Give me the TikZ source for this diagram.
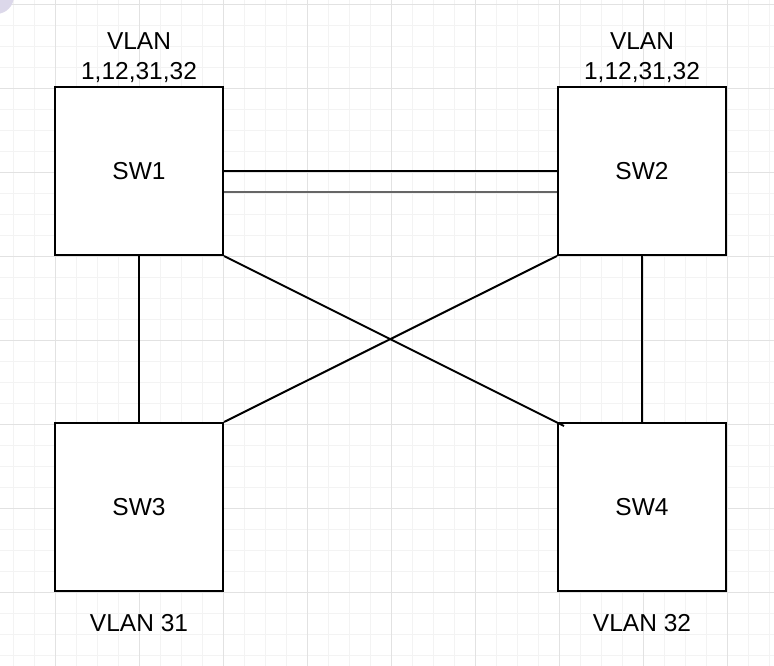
\documentclass[tikz,border=0pt]{standalone}
\usepackage{fontspec}
\setmainfont{Liberation Sans}
\usepackage{tikz}
\usetikzlibrary{matrix,positioning}
\definecolor{gridmajor}{HTML}{E2E2E2}
\definecolor{gridminor}{HTML}{F3F3F3}
\definecolor{blob}{HTML}{DCD8EA}

\begin{document}
\begin{tikzpicture}[x=1pt,y=-1pt,
    link/.style={line width=2pt},
    vlan/.style={font=\fontsize{24.5}{30}\selectfont, align=center, inner sep=0pt}]
  \useasboundingbox (0,0) rectangle (774,666);
  \fill[white] (0,0) rectangle (774,666);
  \foreach \x in {13,34,...,774} \draw[gridminor] (\x,0) -- (\x,666);
  \foreach \y in {4,25,...,666} \draw[gridminor] (0,\y) -- (774,\y);
  \foreach \x in {55,139,...,774} \draw[gridmajor] (\x,0) -- (\x,666);
  \foreach \y in {4,88,...,666} \draw[gridmajor] (0,\y) -- (774,\y);
  \fill[blob] (-4,-4) circle (18);
  \matrix (m) [matrix of nodes, at={(390.5,339)}, column sep=333pt, row sep=166pt,
    nodes={draw, line width=2pt, minimum size=168pt, fill=white, font=\fontsize{24.5}{28}\selectfont}]
  {
    SW1 & SW2 \\
    SW3 & SW4 \\ };
  \path[link]
    (m-1-1.east) edge (m-1-2.west)
    ([yshift=-20.5pt]m-1-1.east) edge[draw=black!60] ([yshift=-20.5pt]m-1-2.west)
    (m-1-1.south) edge (m-2-1.north)
    (m-1-2.south) edge (m-2-2.north)
    (m-1-1.south east) edge ([shift={(7pt,-4pt)}]m-2-2.north west)
    (m-1-2.south west) edge (m-2-1.north east);
  \node[vlan, above=3pt of m-1-1] (top1) {VLAN\\1,12,31,32};
  \node[vlan, above=3pt of m-1-2] (top2) {VLAN\\1,12,31,32};
  \node[vlan, below=22pt of m-2-1] (bot1) {VLAN 31};
  \node[vlan, below=22pt of m-2-2] (bot2) {VLAN 32};
\end{tikzpicture}
\end{document}
